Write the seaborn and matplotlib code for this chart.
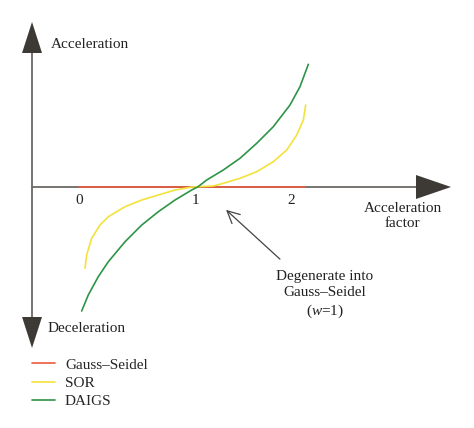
import matplotlib
matplotlib.use('Agg')
import matplotlib.pyplot as plt
import numpy as np
import pandas as pd
import seaborn as sns

# curve shapes (acceleration factor vs acceleration)
gs_x = [0.0, 1.95]
gs_y = [0.0, 0.0]

sor_x = [0.052, 0.066, 0.109, 0.181, 0.253, 0.397, 0.541, 0.684, 0.828, 0.972,
         1.158, 1.244, 1.388, 1.532, 1.675, 1.791, 1.877, 1.934, 1.954]
sor_y = [-0.813, -0.68, -0.513, -0.38, -0.297, -0.197, -0.13, -0.08, -0.03, 0.0,
         0.01, 0.037, 0.087, 0.153, 0.253, 0.37, 0.52, 0.67, 0.82]

daigs_x = [0.023, 0.080, 0.166, 0.253, 0.397, 0.541, 0.684, 0.828, 0.972, 1.026,
           1.101, 1.244, 1.388, 1.532, 1.675, 1.819, 1.905, 1.977]
daigs_y = [-1.24, -1.08, -0.897, -0.747, -0.547, -0.38, -0.247, -0.13, -0.03, 0.003,
           0.07, 0.17, 0.287, 0.437, 0.603, 0.82, 1.003, 1.227]

tick_pos = [0.0, 1.0, 1.83]
tick_labels = ['0', '1', '2']

df = pd.concat([
    pd.DataFrame({'x': gs_x, 'y': gs_y, 'method': 'Gauss–Seidel'}),
    pd.DataFrame({'x': sor_x, 'y': sor_y, 'method': 'SOR'}),
    pd.DataFrame({'x': daigs_x, 'y': daigs_y, 'method': 'DAIGS'}),
])
colors = {'Gauss–Seidel': '#ec5a3c', 'SOR': '#f3e23c', 'DAIGS': '#2e9447'}

sns.set_style('white')
plt.rcParams['font.family'] = ['Liberation Serif', 'DejaVu Serif']
plt.rcParams['font.size'] = 11
plt.rcParams['mathtext.fontset'] = 'custom'
plt.rcParams['mathtext.it'] = 'Liberation Serif:italic'
plt.rcParams['mathtext.rm'] = 'Liberation Serif'

fig = plt.figure(figsize=(4.74, 4.28), dpi=100)
ax = fig.add_axes([0, 0, 1, 1])
ax.set_xlim(-79 / 116, (474 - 79) / 116)
ax.set_ylim(-2.41, 1.87)
ax.axis('off')

axis_col = '#6b6866'
head_col = '#3d3935'
txt_col = '#222222'
# axes with arrow heads
ax.plot([-0.405, 2.92], [0, 0], color=axis_col, lw=1.3, zorder=1)
ax.plot([-0.405, -0.405], [-1.33, 1.37], color=axis_col, lw=1.3, zorder=1)
ax.fill([2.905, 3.207, 2.905], [0.12, 0.0, -0.12], color=head_col, lw=0)
ax.fill([-0.491, -0.405, -0.319], [1.34, 1.65, 1.34], color=head_col, lw=0)
ax.fill([-0.491, -0.405, -0.319], [-1.30, -1.61, -1.30], color=head_col, lw=0)

sns.lineplot(data=df, x='x', y='y', hue='method', palette=colors, sort=False,
             estimator=None, lw=1.2, ax=ax, zorder=2)

for p, t in zip(tick_pos, tick_labels):
    ax.text(p, -0.13, t, ha='center', va='center', color=txt_col)

ax.text(-0.245, 1.43, 'Acceleration', ha='left', va='center', color=txt_col)
ax.text(-0.27, -1.42, 'Deceleration', ha='left', va='center', color=txt_col)
ax.text(2.79, -0.29, 'Acceleration\nfactor', ha='center', va='center',
        linespacing=1.25, color=txt_col)
ax.text(2.12, -1.08, 'Degenerate into\nGauss–Seidel\n($w$=1)', ha='center',
        va='center', linespacing=1.3, color=txt_col)
ax.annotate('', xy=(1.25, -0.21), xytext=(1.75, -0.74),
            arrowprops=dict(arrowstyle='->', color='#444444', lw=0.9,
                            mutation_scale=22))

leg = ax.legend(loc='upper left', bbox_to_anchor=(0.055, 0.178), frameon=False,
                handlelength=1.5, handletextpad=0.65, labelspacing=0.3,
                borderaxespad=0, fontsize=11)
for h in leg.get_lines():
    h.set_linewidth(1.2)

fig.savefig('out.png', dpi=100)
